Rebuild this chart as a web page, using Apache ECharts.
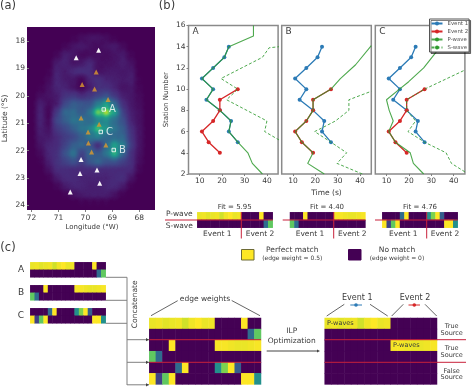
<!DOCTYPE html>
<html><head><meta charset="utf-8">
<style>html,body{margin:0;padding:0;background:#fff}#c{width:474px;height:387px;filter:blur(0.35px)}</style>
<script src="https://cdn.jsdelivr.net/npm/echarts@6/dist/echarts.min.js"></script>
</head><body><div id="c"></div>
<script>
// ---- map data (a)
const heatLons=[71.6,71.3,71.0,70.7,70.4,70.1,69.8,69.5,69.2,68.9,68.6,68.3,68.0];
const heatLats=[17.9,18.2,18.5,18.8,19.1,19.4,19.7,20.0,20.3,20.6,20.9,21.2,21.5,21.8,22.1,22.4,22.7,23.0,23.3,23.6,23.9];
const densityRows=[
[0,0,0,0,.01,.04,.06,.06,.04,.01,0,0,0],
[0,0,0,.02,.06,.08,.05,.04,.06,.08,.03,0,0],
[0,0,.02,.09,.07,.03,.04,.05,.04,.06,.08,.02,0],
[0,0,.08,.1,.06,.07,.12,.05,.05,.06,.09,.05,0],
[0,.01,.1,.08,.12,.14,.13,.05,.07,.08,.07,.08,0],
[0,.03,.11,.08,.07,.02,.11,.14,.1,.09,.08,.09,.01],
[.01,.05,.11,.1,.06,.02,.08,.14,.14,.1,.06,.07,.02],
[.04,.06,.08,.15,.17,.12,.16,.2,.25,.17,.09,.07,.03],
[.09,.04,.08,.22,.3,.28,.26,.42,.6,.35,.14,.07,.04],
[.1,.02,.17,.34,.36,.28,.38,.85,1,.6,.2,.09,.05],
[.1,.03,.22,.3,.4,.4,.34,.45,.5,.36,.26,.1,.05],
[.09,.05,.17,.22,.3,.4,.45,.75,.55,.4,.3,.14,.06],
[.08,.08,.12,.18,.22,.3,.4,.45,.34,.34,.34,.16,.06],
[.06,.11,.12,.2,.3,.34,.28,.1,.34,.6,.45,.18,.06],
[.03,.11,.14,.26,.4,.18,.34,.28,.4,.7,.34,.14,.05],
[.01,.09,.15,.2,.26,.18,.28,.34,.26,.26,.2,.14,.04],
[0,.05,.13,.13,.12,.12,.12,.12,.12,.12,.12,.12,.02],
[0,.01,.08,.12,.12,.1,.1,.1,.1,.12,.14,.06,0],
[0,0,.02,.08,.11,.11,.09,.09,.11,.12,.08,.01,0],
[0,0,0,.01,.05,.08,.09,.09,.09,.05,.01,0,0],
[0,0,0,0,0,.01,.01,.01,.01,0,0,0,0]];
const whiteStations=[[69.51,18.34],[70.34,18.61],[70.16,22.33],[70.2,22.84],[69.57,22.71],[69.47,23.19],[70.56,23.51]];
const orangeStations=[[69.6,19.13],[70.12,19.59],[69.66,19.75],[69.16,20.14],[70.16,20.81],[69.49,21.04],[69.9,21.32],[69.89,21.72],[69.24,21.8],[69.77,22.05]];
const sources=[['A',69.32,20.5],['B',68.95,21.98],['C',69.43,21.32]];
const lonTicks=[68,69,70,71,72];
const latTicks=[18,19,20,21,22,23,24];
// ---- arrival times (b)
const event1Stations=[5,6,7,8,9,10,11,12,13,14];
const event1Times=[27,23,24,19,13,16,11,16,21,23];
const event2Stations=[4,5,6,7,8,9,10];
const event2Times=[19,14,11,16,19,19,27];
const pWaveA=[[38,2],[33.5,3],[31.5,4],[27,5],[23,6],[24,7],[19,8],[13,9],[16,10],[11,11],[16,12],[21,13],[23,14],[34,15],[34,16]];
const sWaveA=[[45.5,5.2],[39,6],[40,7],[22,9],[27,10],[19.5,11],[38,13],[41,13.9],[45.5,14]];
const pWaveB=[[24,2],[16.6,3],[19,4],[14,5],[11,6],[16,7],[19,8],[19,9],[27,10],[31.2,11],[38,12.3],[45,14.1]];
const sWaveB=[[41,2],[29.7,3],[34,4],[27,5],[19.7,6],[23.5,6.4],[29,7],[35,8],[35,9],[45,9.8]];
const pWaveC=[[26.6,2],[22,3],[20.6,4],[14,5],[11,6],[13,7],[11.2,8],[10,9],[15.8,10],[19.9,10.7],[26.6,12],[31.8,13.4],[36,14.5],[38,16]];
const sWaveC=[[45,2.2],[39,3],[36.6,4],[27,5],[19.6,6],[23,7],[19,8],[19,9],[27,10],[45,11.8]];
const timeTicks=[10,20,30,40];
// ---- edge-weight matrices (17 columns: 10 for event 1, 7 for event 2)
const matrixAP=[.97,.98,.96,.97,.98,.93,.98,1,.97,.98,0,0,0,0,1,0,0];
const matrixAS=[0,0,0,0,0,0,0,0,0,0,0,0,0,0,0,.35,.75];
const matrixBP=[0,0,0,1,0,0,0,0,0,0,.99,.99,.98,.97,.97,.98,.99];
const matrixBS=[.75,.35,0,0,0,0,0,0,0,0,0,0,0,0,0,0,0];
const matrixCP=[0,0,0,0,.35,1,0,0,0,0,.5,.8,1,.3,0,0,0];
const matrixCS=[1,.2,.75,1,0,0,0,0,0,0,0,0,0,0,1,1,.5];
const fitLabels=['Fit = 5.95','Fit = 4.40','Fit = 4.76'];

const viridis=['#440154','#482878','#3e4989','#31688e','#26828e','#1f9e89','#35b779','#6ece58','#b5de2b','#fde725'];
const FONT='DejaVu Sans', TXT='#3a3a3a', GREY='#808080';
const BLUE='#2c7bb6', RED='#d62728', GREEN='#2f9a2f';

echarts.registerMap('box',{type:'FeatureCollection',features:[{type:'Feature',properties:{name:'box'},geometry:{type:'Polygon',coordinates:[[[-72.09,-24.17],[-67.42,-24.17],[-67.42,-17.49],[-72.09,-17.49],[-72.09,-24.17]]]}}]});

const grids=[],xAxes=[],yAxes=[],series=[],heatIdx=[];
function pushHeat(s){heatIdx.push(series.length);series.push(s);}

// map grid
grids.push({left:27,top:27,width:128,height:183});
xAxes.push({type:'value',gridIndex:0,min:67.42,max:72.09,inverse:true,name:'Longitude (°W)',nameLocation:'middle',nameGap:14,
  nameTextStyle:{fontFamily:FONT,fontSize:7,color:TXT},splitLine:{show:false},axisLine:{show:false},
  axisTick:{length:2,customValues:lonTicks,lineStyle:{color:GREY}},
  axisLabel:{customValues:lonTicks,margin:4,fontFamily:FONT,fontSize:7.5,color:TXT}});
yAxes.push({type:'value',gridIndex:0,min:17.49,max:24.17,inverse:true,name:'Latitude (°S)',nameLocation:'middle',nameGap:20,
  nameTextStyle:{fontFamily:FONT,fontSize:7.5,color:TXT},splitLine:{show:false},axisLine:{show:false},
  axisTick:{length:2,customValues:latTicks,lineStyle:{color:GREY}},
  axisLabel:{customValues:latTicks,margin:4,fontFamily:FONT,fontSize:7.5,color:TXT}});

const densityData=[];
densityRows.forEach((row,r)=>row.forEach((v,c)=>{if(v>0)densityData.push([-heatLons[c],-heatLats[r],v]);}));
pushHeat({type:'heatmap',name:'density',coordinateSystem:'geo',geoIndex:0,data:densityData,pointSize:5,blurSize:5,minOpacity:1,maxOpacity:1,silent:true,z:1});
series.push({type:'scatter',name:'Stations',xAxisIndex:0,yAxisIndex:0,data:whiteStations,symbol:'triangle',symbolSize:5,itemStyle:{color:'#fff',opacity:.95},silent:true,z:5});
series.push({type:'scatter',name:'Used stations',xAxisIndex:0,yAxisIndex:0,data:orangeStations,symbol:'triangle',symbolSize:5,itemStyle:{color:'#dd9a2e'},silent:true,z:5});
series.push({type:'scatter',name:'Sources',xAxisIndex:0,yAxisIndex:0,data:sources.map(s=>({name:s[0],value:[s[1],s[2]]})),symbol:'rect',symbolSize:3.5,
  itemStyle:{color:'rgba(255,255,255,.15)',borderColor:'#fff',borderWidth:1},silent:true,z:6,
  label:{show:true,position:'right',distance:3,formatter:'{b}',color:'#fff',fontFamily:FONT,fontSize:10}});

// line panels
const panels=[{l:188.5,p:pWaveA,s:sWaveA,t:'A'},{l:281.7,p:pWaveB,s:sWaveB,t:'B'},{l:375.3,p:pWaveC,s:sWaveC,t:'C'}];
const zip=(a,b)=>a.map((v,i)=>[v,b[i]]);
panels.forEach((P,i)=>{
  const g=grids.length;
  grids.push({left:P.l,top:25.5,width:89.6,height:148.5,show:true,borderColor:'#8a8a8a',borderWidth:1.5});
  xAxes.push({type:'value',gridIndex:g,min:5,max:45,splitLine:{show:false},axisLine:{show:false},
    name:i===1?'Time (s)':'',nameLocation:'middle',nameGap:15,nameTextStyle:{fontFamily:FONT,fontSize:7.5,color:TXT},
    axisTick:{length:2,customValues:timeTicks,lineStyle:{color:GREY}},
    axisLabel:{customValues:timeTicks,margin:3,fontFamily:FONT,fontSize:7.5,color:TXT}});
  yAxes.push({type:'value',gridIndex:g,min:2,max:16,interval:2,splitLine:{show:false},axisLine:{show:false},
    name:i===0?'Station Number':'',nameLocation:'middle',nameGap:19,nameTextStyle:{fontFamily:FONT,fontSize:7,color:TXT},
    axisTick:{show:i===0,length:2,lineStyle:{color:GREY}},
    axisLabel:{show:i===0,margin:3,fontFamily:FONT,fontSize:7.5,color:TXT}});
  const base={type:'line',xAxisIndex:g,yAxisIndex:g,silent:true,animation:false};
  series.push(Object.assign({},base,{name:'Event 1',data:zip(event1Times,event1Stations),symbol:'circle',symbolSize:4,lineStyle:{color:BLUE,width:1.3},itemStyle:{color:BLUE},z:3}));
  series.push(Object.assign({},base,{name:'Event 2',data:zip(event2Times,event2Stations),symbol:'circle',symbolSize:4,lineStyle:{color:RED,width:1.3},itemStyle:{color:RED},z:3}));
  series.push(Object.assign({},base,{name:'P-wave',data:P.p,symbol:'none',lineStyle:{color:GREEN,width:1.1,opacity:.85},itemStyle:{color:GREEN},z:4}));
  series.push(Object.assign({},base,{name:'S-wave',data:P.s,symbol:'none',lineStyle:{color:GREEN,width:1,type:[3,2],opacity:.85},itemStyle:{color:GREEN},z:4}));
});

// matrices
const colCats=matrixAP.map((_,i)=>String(i));
function matrixGrid(box,rows){
  const g=grids.length;
  grids.push({left:box[0],top:box[1],width:box[2],height:box[3]});
  xAxes.push({type:'category',gridIndex:g,data:colCats,show:false});
  yAxes.push({type:'category',gridIndex:g,inverse:true,data:rows.map((_,i)=>String(i)),show:false});
  const d=[];rows.forEach((r,y)=>r.forEach((v,x)=>d.push([x,y,v])));
  pushHeat({type:'heatmap',xAxisIndex:g,yAxisIndex:g,data:d,silent:true,progressive:0,itemStyle:{borderWidth:0},z:2});
}
const zero=matrixAP.map(()=>0);
matrixGrid([197.3,212.3,75.4,15.4],[matrixAP,matrixAS]);
matrixGrid([290,212.3,75.4,15.4],[matrixBP,matrixBS]);
matrixGrid([382.3,212.3,75.4,15.4],[matrixCP,matrixCS]);
matrixGrid([30.3,262.3,75.4,15],[matrixAP,matrixAS]);
matrixGrid([30.3,285.3,75.4,15],[matrixBP,matrixBS]);
matrixGrid([30.3,308.3,75.4,15],[matrixCP,matrixCS]);
matrixGrid([149.3,318,111.7,66.4],[matrixAP,matrixAS,matrixBP,matrixBS,matrixCP,matrixCS]);
const resultRow1=matrixAP.map((v,i)=>i<10?v:0), resultRow2=matrixBP.map((v,i)=>i<10?0:v);
matrixGrid([324.7,318,112.3,66.4],[resultRow1,zero,resultRow2,zero,zero,zero]);

// annotations
const g=[];
function T(text,x,y,size,o){g.push(Object.assign({type:'text',z:50,x:x,y:y,silent:true,style:{text:text,fontFamily:FONT,fontSize:size,fill:(o&&o.fill)||TXT,textAlign:(o&&o.align)||'center',textVerticalAlign:'middle'}},o&&o.el));}
function L(x1,y1,x2,y2,c,w){g.push({type:'line',z:40,silent:true,shape:{x1,y1,x2,y2},style:{stroke:c||GREY,lineWidth:w||1}});}
function Arrow(x,y){g.push({type:'polygon',z:41,silent:true,shape:{points:[[x,y],[x-3,y-1.6],[x-3,y+1.6]]},style:{fill:'#444'}});}
T('(a)',8,6,11.5);T('(b)',167,6,11.5);T('(c)',8,248,11.5);
panels.forEach((P,i)=>T(P.t,P.l+7,32,9));
[234.7,327,420].forEach((x,i)=>T(fitLabels[i],x,206.7,7));
T('P-wave',179.3,214,7.5);T('S-wave',179.3,226,7.5);
[[217.3,260],[310,352.3],[403.3,445]].forEach(p=>{T('Event 1',p[0],234,7.5);T('Event 2',p[1],234,7.5);});
[[165,272.7,241.3],[282.7,365.3,333.7],[375,457.7,426.7]].forEach(p=>{L(p[0],220,p[1],220,'#c8213a',1);L(p[2],212,p[2],238.5,'#c8213a',1);});
// match legend
g.push({type:'rect',z:40,silent:true,shape:{x:241.5,y:249.5,width:12.5,height:10.5},style:{fill:'#fde725',stroke:'#6d6a35',lineWidth:1}});
g.push({type:'rect',z:40,silent:true,shape:{x:348.5,y:249.5,width:12.5,height:10.5},style:{fill:'#440154',stroke:'#440154',lineWidth:1}});
T('Perfect match',292.3,250.3,7.5);T('(edge weight = 0.5)',292.3,258.7,6);
T('No match',397,250.3,7.5);T('(edge weight = 0)',397,258.7,6);
// (c)
T('A',21,270,9);T('B',21,292.7,9);T('C',21,316,9);
[277.3,300.3,323.3].forEach(y=>L(105.7,y,127,y));
L(127,277.3,127,385);
[339.7,362.3,384.8].forEach(y=>{L(127,y,149,y);Arrow(149,y);});
T('Concatenate',135,304.3,7.5,{el:{rotation:Math.PI/2}});
T('edge weights',205,299.5,7.5);L(151,315.7,177.7,300.7,'#666');L(231.7,300.5,260,315.7,'#666');
[339.7,362.3].forEach(y=>{L(149.3,y,261,y,'#c8213a',1);L(324.7,y,466,y,'#c8213a',1);});
T('ILP',291.7,331,7.5);T('Optimization',291.7,341,7.5);
L(266.7,351,318,351,'#444');Arrow(320,351);
T('Event 1',357.3,297.7,8);T('Event 2',415,297.7,8);
L(326.7,316,344.3,304.3,'#666');L(370,304.3,387.7,316,'#666');L(391.7,316,403.3,304.3,'#666');L(425,304.3,436.7,316,'#666');
L(350.3,305,362,305,BLUE,1);L(408.5,305,420,305,RED,1);
g.push({type:'circle',z:41,silent:true,shape:{cx:356,cy:305,r:1.8},style:{fill:BLUE}});
g.push({type:'circle',z:41,silent:true,shape:{cx:414.3,cy:305,r:1.8},style:{fill:RED}});
T('P-waves',327,323.5,6.5,{align:'left'});T('P-waves',393,345.8,6.5,{align:'left'});
T('True',451.7,326.7,6.5);T('Source',451.7,332.9,6.5);
T('True',451.7,348.7,6.5);T('Source',451.7,355,6.5);
T('False',451.7,371,6.5);T('Source',451.7,377.3,6.5);

const chart=echarts.init(document.getElementById('c'),null,{renderer:'canvas'});
chart.setOption({
  animation:false,backgroundColor:'#fff',
  textStyle:{fontFamily:FONT},
  geo:{map:'box',silent:true,roam:false,aspectScale:1,left:27,top:27,width:128,height:183,z:0,
    label:{show:false},itemStyle:{areaColor:'#440154',borderWidth:0},emphasis:{disabled:true}},
  grid:grids,xAxis:xAxes,yAxis:yAxes,
  visualMap:{type:'continuous',show:false,min:0,max:1,dimension:2,seriesIndex:heatIdx,inRange:{color:viridis}},
  legend:{show:true,left:429.5,top:19,orient:'vertical',data:['Event 1','Event 2','P-wave','S-wave'],
    itemWidth:11,itemHeight:5,itemGap:3,padding:[2,1,2,1],backgroundColor:'#fff',borderColor:'#555',borderWidth:1,
    shadowColor:'rgba(0,0,0,.5)',shadowOffsetX:1.5,shadowOffsetY:1.5,shadowBlur:0,
    textStyle:{fontFamily:FONT,fontSize:5.4,color:'#555'},selectedMode:false,z:20},
  series:series,
  graphic:{elements:g}
});
</script></body></html>
